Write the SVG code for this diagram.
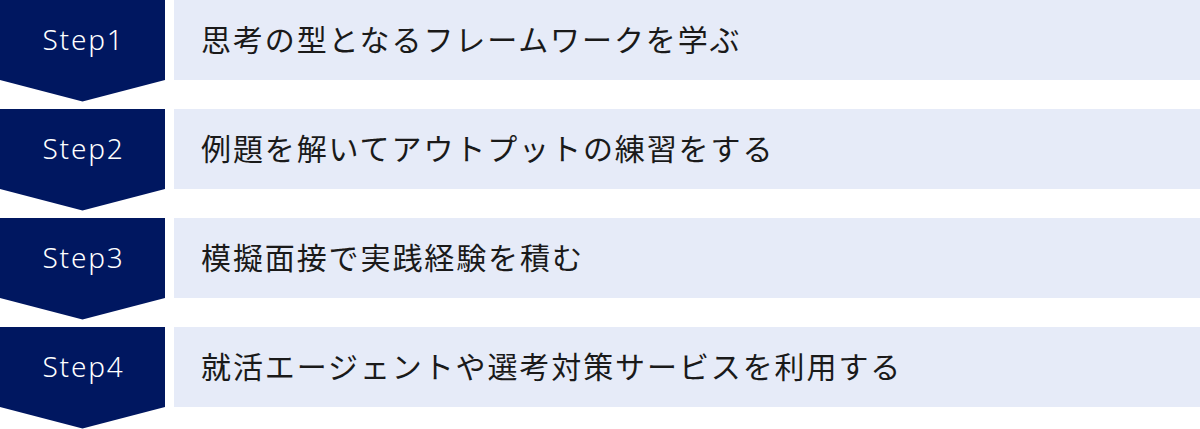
<svg xmlns="http://www.w3.org/2000/svg" width="1200" height="429" viewBox="0 0 1200 429">
<style>
.step{fill:#001760}
.bar{fill:#e6ebf8}
.lbl{font-family:"Noto Sans","Noto Sans CJK JP",sans-serif;font-size:28px;font-weight:300;fill:#ffffff;letter-spacing:1.8px;text-anchor:middle}
.txt{font-family:"Noto Sans CJK JP","Noto Sans",sans-serif;font-size:30px;font-weight:400;fill:#1a1a1a;letter-spacing:1.9px}
</style>
<g id="step1">
<path class="step" d="M0 0H165V80L82.5 101.5L0 80Z"/>
<rect class="bar" x="174" y="0" width="1026" height="80"/>
<text class="lbl" x="83.5" y="50">Step1</text>
<text class="txt" x="201" y="50.5">思考の型となるフレームワークを学ぶ</text>
</g>
<g id="step2">
<path class="step" d="M0 109H165V189L82.5 210.5L0 189Z"/>
<rect class="bar" x="174" y="109" width="1026" height="80"/>
<text class="lbl" x="83.5" y="159">Step2</text>
<text class="txt" x="201" y="159.5">例題を解いてアウトプットの練習をする</text>
</g>
<g id="step3">
<path class="step" d="M0 218H165V298L82.5 319.5L0 298Z"/>
<rect class="bar" x="174" y="218" width="1026" height="80"/>
<text class="lbl" x="83.5" y="268">Step3</text>
<text class="txt" x="201" y="268.5">模擬面接で実践経験を積む</text>
</g>
<g id="step4">
<path class="step" d="M0 327H165V407L82.5 428.5L0 407Z"/>
<rect class="bar" x="174" y="327" width="1026" height="80"/>
<text class="lbl" x="83.5" y="377">Step4</text>
<text class="txt" x="201" y="377.5">就活エージェントや選考対策サービスを利用する</text>
</g>
<g id="connectors"></g>
</svg>
